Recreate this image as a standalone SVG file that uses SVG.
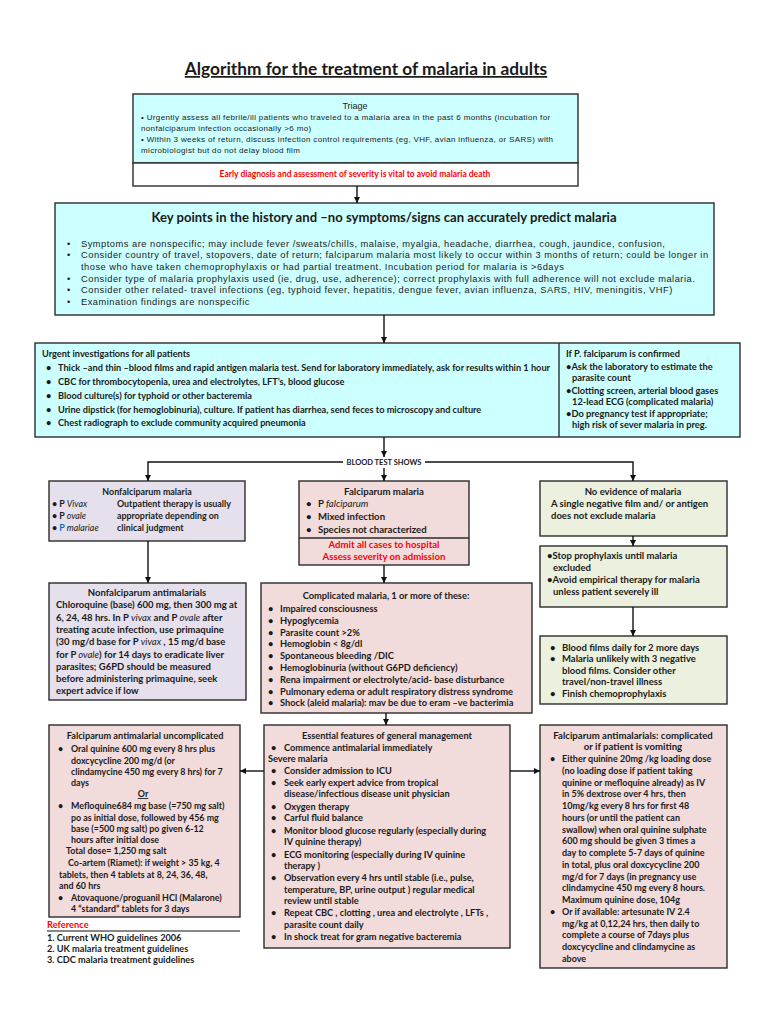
<svg xmlns="http://www.w3.org/2000/svg" width="768" height="1024" viewBox="0 0 768 1024">
<defs>
<marker id="ah" viewBox="0 0 10 10" refX="10" refY="5" markerWidth="6" markerHeight="6" markerUnits="userSpaceOnUse" orient="auto">
<path d="M0,0 L10,5 L0,10 z" fill="#111"/>
</marker>
</defs>
<style>
.box{stroke:#2b2b2b;stroke-width:1.4}
.cy{fill:#ccffff}.wh{fill:#ffffff}.lav{fill:#e5e0ec}.pk{fill:#f2dcdb}.gr{fill:#ebf1de}
.ar{font-family:"Liberation Sans",Arial,sans-serif;fill:#1a1a1a}
.tr{font-size:8px;letter-spacing:0.35px}
.kp{font-size:9.3px;letter-spacing:0.5px}
.ca{font-family:Lato,"Liberation Sans",sans-serif;font-weight:bold;fill:#1a1a1a}
.c{text-anchor:middle}
.red{fill:#ff0000}
.it{font-style:italic;font-weight:normal}
.ln{stroke:#111;stroke-width:1.4;fill:none}
</style>
<rect width="768" height="1024" fill="#ffffff"/>
<text x="366" y="75" class="ca c" font-size="17.3" text-decoration="underline">Algorithm for the treatment of malaria in adults</text>

<g id="triage">
<rect x="133" y="94" width="445" height="69" class="box cy"/>
<rect x="133" y="163" width="445" height="23" class="box wh"/>
<text x="355" y="109" class="ar c" font-size="9">Triage</text>
<text class="ar tr"><tspan x="141" y="120">• Urgently assess all febrile/ill patients who traveled to a malaria area in the past 6 months (incubation for</tspan><tspan x="141" y="131">nonfalciparum infection occasionally &gt;6 mo)</tspan><tspan x="141" y="142">• Within 3 weeks of return, discuss infection control requirements (eg, VHF, avian influenza, or SARS) with</tspan><tspan x="141" y="153">microbiologist but do not delay blood film</tspan></text>
<text x="355" y="177" class="ca c red" font-size="8.5">Early diagnosis and assessment of severity is vital to avoid malaria death</text>
</g>

<g id="keypoints">
<rect x="55" y="203" width="659" height="112" class="box cy"/>
<text x="384" y="222" class="ca c" font-size="13.1">Key points in the history and –no symptoms/signs can accurately predict malaria</text>
<g class="ar kp">
<text x="67" y="247">•</text><text x="81" y="247">Symptoms are nonspecific; may include fever /sweats/chills, malaise, myalgia, headache, diarrhea, cough, jaundice, confusion,</text>
<text x="67" y="258">•</text><text x="81" y="258">Consider country of travel, stopovers, date of return; falciparum malaria most likely to occur within 3 months of return; could be longer in</text>
<text x="81" y="270">those who have taken chemoprophylaxis or had partial treatment. Incubation period for malaria is &gt;6days</text>
<text x="67" y="282">•</text><text x="81" y="282">Consider type of malaria prophylaxis used (ie, drug, use, adherence); correct prophylaxis with full adherence will not exclude malaria.</text>
<text x="67" y="293">•</text><text x="81" y="293">Consider other related- travel infections (eg, typhoid fever, hepatitis, dengue fever, avian influenza, SARS, HIV, meningitis, VHF)</text>
<text x="67" y="305">•</text><text x="81" y="305">Examination findings are nonspecific</text>
</g>
</g>

<g id="urgent">
<rect x="35" y="343" width="705" height="94" class="box cy"/>
<line x1="559" y1="343" x2="559" y2="437" class="box"/>
<g class="ca" font-size="9.2">
<text x="42" y="357">Urgent investigations for all patients</text>
<text x="46" y="371">•</text><text x="58" y="371">Thick –and thin –blood films and rapid antigen malaria test. Send for laboratory immediately, ask for results within 1  hour</text>
<text x="46" y="385">•</text><text x="58" y="385">CBC for thrombocytopenia, urea and electrolytes, LFT’s, blood glucose</text>
<text x="46" y="399">•</text><text x="58" y="399">Blood culture(s) for typhoid or other bacteremia</text>
<text x="46" y="413">•</text><text x="58" y="413">Urine dipstick (for hemoglobinuria), culture. If patient has diarrhea, send feces to microscopy and culture</text>
<text x="46" y="426">•</text><text x="58" y="426">Chest  radiograph to exclude community acquired pneumonia</text>
</g>
<g class="ca" font-size="9.3">
<text x="566" y="357">If P. falciparum is confirmed</text>
<text x="566" y="370">•Ask the laboratory to estimate the</text>
<text x="572" y="381">parasite count</text>
<text x="566" y="394">•Clotting screen, arterial blood gases</text>
<text x="572" y="405">12-lead ECG (complicated malaria)</text>
<text x="566" y="417">•Do pregnancy test if appropriate;</text>
<text x="572" y="428">high risk of sever malaria in preg.</text>
</g>
</g>

<text x="384" y="465" class="ca c" font-size="7.5">BLOOD TEST SHOWS</text>

<g id="nonfalc">
<rect x="49" y="481" width="196" height="60" class="box lav"/>
<g class="ca" font-size="8.9">
<text x="147" y="495" class="c">Nonfalciparum malaria</text>
<text x="52" y="507">• P <tspan class="it">Vivax</tspan></text>
<text x="52" y="519">• P <tspan class="it">ovale</tspan></text>
<text x="52" y="531">• <tspan fill="#0070c0">P</tspan> <tspan class="it">malariae</tspan></text>
<text x="117" y="507">Outpatient therapy is usually</text>
<text x="117" y="519">appropriate depending on</text>
<text x="117" y="531">clinical judgment</text>
</g>
</g>

<g id="falc">
<rect x="299" y="481" width="170" height="84" class="box pk"/>
<line x1="299" y1="538" x2="469" y2="538" class="box"/>
<g class="ca" font-size="9.6">
<text x="384" y="495" class="c">Falciparum malaria</text>
<text x="306" y="507">•</text><text x="318" y="507">P <tspan class="it">falciparum</tspan></text>
<text x="306" y="520">•</text><text x="318" y="520">Mixed infection</text>
<text x="306" y="533">•</text><text x="318" y="533">Species not characterized</text>
<text x="384" y="548" class="c red">Admit all cases to hospital</text>
<text x="384" y="560" class="c red">Assess severity on admission</text>
</g>
</g>

<g id="noevidence">
<rect x="540" y="481" width="187" height="55" class="box gr"/>
<g class="ca" font-size="9.5">
<text x="633" y="495" class="c">No evidence of malaria</text>
<text x="551" y="507">A single negative film and/ or antigen</text>
<text x="551" y="519">does not exclude malaria</text>
</g>
</g>

<g id="stopprophylaxis">
<rect x="540" y="546" width="187" height="61" class="box gr"/>
<g class="ca" font-size="9.5">
<text x="547" y="559">•Stop prophylaxis until malaria</text>
<text x="553" y="571">excluded</text>
<text x="547" y="583">•Avoid empirical therapy for malaria</text>
<text x="553" y="595">unless patient severely ill</text>
</g>
</g>

<g id="bloodfilms">
<rect x="540" y="636" width="187" height="68" class="box gr"/>
<g class="ca" font-size="9.5">
<text x="550" y="651">•</text><text x="562" y="651">Blood films daily for 2 more days</text>
<text x="550" y="662">•</text><text x="562" y="662">Malaria unlikely with 3 negative</text>
<text x="562" y="674">blood films. Consider other</text>
<text x="562" y="685">travel/non-travel illness</text>
<text x="550" y="697">•</text><text x="562" y="697">Finish chemoprophylaxis</text>
</g>
</g>

<g id="nonfalcantimalarials">
<rect x="49" y="583" width="197" height="117" class="box lav"/>
<g class="ca" font-size="9.5">
<text x="147" y="596" class="c">Nonfalciparum antimalarials</text>
<text x="56" y="608">Chloroquine (base) 600 mg, then 300 mg at</text>
<text x="56" y="621">6, 24, 48 hrs. In P <tspan class="it">vivax</tspan> and P <tspan class="it">ovale</tspan> after</text>
<text x="56" y="633">treating acute infection, use primaquine</text>
<text x="56" y="645">(30 mg/d base for P <tspan class="it">vivax</tspan> , 15 mg/d base</text>
<text x="56" y="658">for P <tspan class="it">ovale</tspan>) for 14 days to eradicate liver</text>
<text x="56" y="670">parasites; G6PD should be measured</text>
<text x="56" y="682">before administering primaquine, seek</text>
<text x="56" y="694">expert advice if low</text>
</g>
</g>

<g id="complicated">
<rect x="261" y="583" width="271" height="130" class="box pk"/>
<g class="ca" font-size="9.3">
<text x="386" y="599" class="c">Complicated malaria, 1 or more of these:</text>
<text x="268" y="612">•</text><text x="280" y="612">Impaired consciousness</text>
<text x="268" y="624">•</text><text x="280" y="624">Hypoglycemia</text>
<text x="268" y="636">•</text><text x="280" y="636">Parasite count &gt;2%</text>
<text x="268" y="647">•</text><text x="280" y="647">Hemoglobin &lt; 8g/dl</text>
<text x="268" y="659">•</text><text x="280" y="659">Spontaneous bleeding /DIC</text>
<text x="268" y="671">•</text><text x="280" y="671">Hemoglobinuria (without G6PD deficiency)</text>
<text x="268" y="683">•</text><text x="280" y="683">Rena impairment or electrolyte/acid- base disturbance</text>
<text x="268" y="695">•</text><text x="280" y="695">Pulmonary edema or adult respiratory distress syndrome</text>
<text x="268" y="706">•</text><text x="280" y="706">Shock (aleid malaria): mav be due to eram –ve bacterimia</text>
</g>
</g>

<g id="uncomplicated">
<rect x="49" y="725" width="191" height="192" class="box pk"/>
<g class="ca" font-size="8.9">
<text x="145" y="739" class="c" font-size="9.2">Falciparum antimalarial uncomplicated</text>
<text x="58" y="752">•</text><text x="71" y="752">Oral quinine 600 mg every 8 hrs plus</text>
<text x="71" y="764">doxcycycline 200 mg/d (or</text>
<text x="71" y="775">clindamycine 450 mg every 8 hrs) for 7</text>
<text x="71" y="786">days</text>
<text x="143" y="797" class="c" text-decoration="underline">Or</text>
<text x="58" y="809">•</text><text x="71" y="809">Mefloquine684 mg base (=750 mg salt)</text>
<text x="71" y="821">po as initial dose, followed by 456 mg</text>
<text x="71" y="832">base (=500 mg salt) po given 6-12</text>
<text x="71" y="843">hours after initial dose</text>
<text x="66" y="854">Total dose= 1,250 mg salt</text>
<text x="68" y="866">Co-artem (Riamet): if weight &gt; 35 kg, 4</text>
<text x="59" y="878">tablets, then 4 tablets at 8, 24, 36, 48,</text>
<text x="59" y="889">and 60 hrs</text>
<text x="58" y="901">•</text><text x="71" y="901">Atovaquone/proguanil HCI (Malarone)</text>
<text x="71" y="912">4 “standard” tablets for 3 days</text>
</g>
</g>

<g id="references">
<text x="47" y="928" class="ca red" font-size="9.3">Reference</text>
<line x1="47" y1="931" x2="240" y2="931" stroke="#111" stroke-width="1"/>
<g class="ca" font-size="9.2">
<text x="47" y="941">1. Current WHO guidelines 2006</text>
<text x="47" y="952">2. UK malaria treatment guidelines</text>
<text x="47" y="963">3. CDC malaria treatment guidelines</text>
</g>
</g>

<g id="essential">
<rect x="264" y="725" width="246" height="223" class="box pk"/>
<g class="ca" font-size="9.2">
<text x="387" y="739" class="c">Essential features of general management</text>
<text x="271" y="751">•</text><text x="284" y="751">Commence antimalarial immediately</text>
<text x="268" y="762">Severe malaria</text>
<text x="271" y="774">•</text><text x="284" y="774">Consider admission to ICU</text>
<text x="271" y="786">•</text><text x="284" y="786">Seek early expert advice from  tropical</text>
<text x="284" y="797">disease/infectious disease unit physician</text>
<text x="271" y="810">•</text><text x="284" y="810">Oxygen therapy</text>
<text x="271" y="821">•</text><text x="284" y="821">Carful fluid balance</text>
<text x="271" y="834">•</text><text x="284" y="834">Monitor blood glucose regularly (especially during</text>
<text x="284" y="845">IV quinine therapy)</text>
<text x="271" y="858">•</text><text x="284" y="858">ECG monitoring (especially during IV quinine</text>
<text x="284" y="869">therapy )</text>
<text x="271" y="881">•</text><text x="284" y="881">Observation every 4  hrs until stable (i.e., pulse,</text>
<text x="284" y="893">temperature, BP, urine output ) regular medical</text>
<text x="284" y="904">review until stable</text>
<text x="271" y="916">•</text><text x="284" y="916"> Repeat CBC , clotting , urea and electrolyte , LFTs ,</text>
<text x="284" y="928">parasite count daily</text>
<text x="271" y="940">•</text><text x="284" y="940">In shock treat for gram negative bacteremia</text>
</g>
</g>

<g id="complicatedantimalarials">
<rect x="540" y="725" width="187" height="243" class="box pk"/>
<g class="ca" font-size="9">
<text x="633" y="739" class="c" font-size="9.6">Falciparum antimalarials: complicated</text>
<text x="633" y="750" class="c" font-size="9.6">or if patient is vomiting</text>
<text x="550" y="762">•</text><text x="562" y="762">Either quinine 20mg /kg loading dose</text>
<text x="562" y="773.8">(no loading dose if patient taking</text>
<text x="562" y="785.5">quinine or mefloquine already) as IV</text>
<text x="562" y="797.3">in 5% dextrose over 4 hrs, then</text>
<text x="562" y="809">10mg/kg every 8 hrs for first 48</text>
<text x="562" y="820.8">hours (or until the patient can</text>
<text x="562" y="832.5">swallow) when oral quinine sulphate</text>
<text x="562" y="844.3">600 mg should be given 3 times a</text>
<text x="562" y="856">day to complete 5-7 days of quinine</text>
<text x="562" y="867.8">in total, plus oral doxcycycline 200</text>
<text x="562" y="879.5">mg/d for 7 days (in pregnancy use</text>
<text x="562" y="891.3">clindamycine 450 mg every 8 hours.</text>
<text x="562" y="903">Maximum quinine dose, 104g</text>
<text x="550" y="914.8">•</text><text x="562" y="914.8">Or if available: artesunate IV 2.4</text>
<text x="562" y="926.5">mg/kg at  0,12,24 hrs, then daily to</text>
<text x="562" y="938.3">complete a course of 7days plus</text>
<text x="562" y="950">doxcycycline and clindamycine as</text>
<text x="562" y="961.8">above</text>
</g>
</g>

<g id="connectors">
<line x1="357" y1="186" x2="357" y2="203" class="ln" marker-end="url(#ah)"/>
<line x1="384" y1="315" x2="384" y2="343" class="ln" marker-end="url(#ah)"/>
<line x1="384" y1="437" x2="384" y2="457" class="ln" marker-end="url(#ah)"/>
<polyline points="343,462 148,462 148,481" class="ln" marker-end="url(#ah)"/>
<polyline points="425,462 633,462 633,481" class="ln" marker-end="url(#ah)"/>
<line x1="384" y1="468" x2="384" y2="481" class="ln" marker-end="url(#ah)"/>
<line x1="148" y1="541" x2="148" y2="583" class="ln" marker-end="url(#ah)"/>
<line x1="384" y1="565" x2="384" y2="583" class="ln" marker-end="url(#ah)"/>
<line x1="633" y1="536" x2="633" y2="546" class="ln" marker-end="url(#ah)"/>
<line x1="633" y1="607" x2="633" y2="636" class="ln" marker-end="url(#ah)"/>
<line x1="386" y1="713" x2="386" y2="725" class="ln" marker-end="url(#ah)"/>
<line x1="264" y1="771" x2="240" y2="771" class="ln" marker-end="url(#ah)"/>
<line x1="510" y1="771" x2="540" y2="771" class="ln" marker-end="url(#ah)"/>
</g>
</svg>
